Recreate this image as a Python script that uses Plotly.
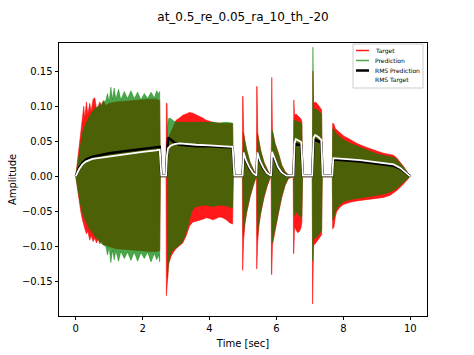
import plotly.graph_objects as go

# ---------------- data ----------------
target_t = [0.00, 0.05, 0.10, 0.15, 0.20, 0.24, 0.27, 0.32, 0.36, 0.42, 0.46, 0.52, 0.57, 0.62, 0.67,
            0.72, 0.78, 0.82, 0.90, 1.00, 1.20, 1.40, 1.60, 1.80, 2.00, 2.20, 2.40, 2.51, 2.53, 2.70,
            2.71, 2.73, 2.745, 2.78, 2.85, 2.92, 3.00, 3.10, 3.20, 3.30, 3.40, 3.50, 3.60, 3.70, 3.80,
            3.90, 4.00, 4.10, 4.20, 4.30, 4.40, 4.50, 4.60, 4.69, 4.71, 4.98,
            4.99, 5.00, 5.02, 5.06, 5.11, 5.21, 5.31, 5.38, 5.40,
            5.41, 5.42, 5.44, 5.48, 5.53, 5.63, 5.73, 5.81, 5.84,
            5.85, 5.86, 5.88, 5.96, 6.06, 6.16, 6.26, 6.36, 6.50,
            6.51, 6.52, 6.54, 6.58, 6.63, 6.68, 6.73, 6.76, 6.78, 7.07,
            7.08, 7.09, 7.11, 7.16, 7.21, 7.26, 7.31, 7.35, 7.37, 7.67,
            7.68, 7.72, 7.76, 7.80, 7.90, 8.00, 8.20, 8.40, 8.60, 8.80, 9.00, 9.20, 9.40, 9.50, 9.60,
            9.80, 10.00]
target_upper = [0.000, 0.020, 0.045, 0.062, 0.078, 0.100, 0.082, 0.106, 0.088, 0.104, 0.092, 0.110, 0.112, 0.096, 0.100,
                0.106, 0.099, 0.108, 0.101, 0.104, 0.106, 0.107, 0.108, 0.108, 0.110, 0.110, 0.110, 0.108, 0.001, 0.001,
                0.104, 0.104, 0.052, 0.056, 0.064, 0.072, 0.080, 0.083, 0.087, 0.089, 0.091, 0.090, 0.088, 0.086, 0.083,
                0.080, 0.078, 0.077, 0.076, 0.076, 0.076, 0.075, 0.075, 0.075, 0.001, 0.001,
                0.114, 0.114, 0.062, 0.050, 0.037, 0.020, 0.009, 0.002, 0.001,
                0.128, 0.128, 0.062, 0.050, 0.037, 0.020, 0.009, 0.002, 0.001,
                0.141, 0.141, 0.066, 0.047, 0.033, 0.016, 0.007, 0.002, 0.001,
                0.109, 0.109, 0.086, 0.089, 0.087, 0.085, 0.082, 0.078, 0.001, 0.001,
                0.150, 0.150, 0.104, 0.106, 0.104, 0.101, 0.098, 0.095, 0.001, 0.001,
                0.076, 0.074, 0.068, 0.066, 0.062, 0.058, 0.052, 0.047, 0.043, 0.039, 0.036, 0.033, 0.031, 0.030, 0.026,
                0.014, 0.000]
target_lower = [0.000, -0.018, -0.035, -0.050, -0.062, -0.070, -0.074, -0.082, -0.078, -0.091, -0.084, -0.093, -0.088, -0.095, -0.089,
                -0.096, -0.092, -0.097, -0.098, -0.100, -0.103, -0.104, -0.105, -0.106, -0.106, -0.107, -0.107, -0.106, -0.001, -0.001,
                -0.170, -0.170, -0.148, -0.125, -0.114, -0.108, -0.103, -0.099, -0.095, -0.085, -0.071, -0.065, -0.064, -0.063, -0.061,
                -0.059, -0.060, -0.062, -0.060, -0.058, -0.059, -0.062, -0.066, -0.068, -0.001, -0.001,
                -0.134, -0.134, -0.090, -0.068, -0.052, -0.030, -0.013, -0.003, -0.001,
                -0.132, -0.132, -0.092, -0.070, -0.053, -0.030, -0.013, -0.003, -0.001,
                -0.140, -0.140, -0.098, -0.077, -0.053, -0.030, -0.013, -0.003, -0.001,
                -0.110, -0.110, -0.072, -0.076, -0.080, -0.079, -0.074, -0.066, -0.001, -0.001,
                -0.182, -0.182, -0.098, -0.096, -0.094, -0.090, -0.086, -0.083, -0.001, -0.001,
                -0.075, -0.072, -0.058, -0.050, -0.044, -0.040, -0.037, -0.035, -0.034, -0.033, -0.031, -0.030, -0.027, -0.024, -0.020,
                -0.011, 0.000]

pred_t = [0.00, 0.05, 0.10, 0.15, 0.20, 0.30, 0.40, 0.50, 0.60, 0.70, 0.80, 0.90, 0.95, 1.00, 1.05, 1.10, 1.15,
          1.20, 1.28, 1.35, 1.45, 1.55, 1.65, 1.75, 1.85, 1.95, 2.05, 2.15, 2.25, 2.35, 2.42, 2.48, 2.51, 2.53, 2.74,
          2.745, 2.77, 2.82, 2.88, 2.95, 3.05, 3.15, 3.25, 3.35, 3.45, 3.55, 3.70, 3.90, 4.10, 4.30, 4.50, 4.69,
          4.71, 4.99,
          5.01, 5.05, 5.11, 5.21, 5.31, 5.38, 5.42,
          5.43, 5.47, 5.53, 5.63, 5.73, 5.81, 5.86,
          5.87, 5.96, 6.06, 6.16, 6.26, 6.36, 6.51,
          6.53, 6.58, 6.63, 6.68, 6.73, 6.76, 6.78, 7.07,
          7.08, 7.09, 7.11, 7.16, 7.21, 7.26, 7.31, 7.35, 7.37, 7.67,
          7.68, 7.72, 7.80, 7.90, 8.00, 8.20, 8.50, 8.80, 9.00, 9.30, 9.50, 9.60, 9.80, 10.00]
pred_upper = [0.000, 0.015, 0.035, 0.050, 0.062, 0.075, 0.085, 0.092, 0.098, 0.100, 0.105, 0.108, 0.118, 0.106, 0.127, 0.110, 0.126,
              0.110, 0.124, 0.109, 0.121, 0.111, 0.122, 0.111, 0.120, 0.109, 0.118, 0.111, 0.120, 0.112, 0.122, 0.117, 0.121, 0.001, 0.001,
              0.070, 0.082, 0.083, 0.080, 0.078, 0.077, 0.077, 0.078, 0.078, 0.078, 0.077, 0.077, 0.077, 0.077, 0.076, 0.077, 0.076,
              0.001, 0.001,
              0.063, 0.050, 0.037, 0.020, 0.009, 0.002, 0.001,
              0.062, 0.050, 0.036, 0.019, 0.008, 0.002, 0.001,
              0.066, 0.046, 0.032, 0.015, 0.006, 0.002, 0.001,
              0.080, 0.079, 0.078, 0.077, 0.076, 0.074, 0.001, 0.001,
              0.184, 0.184, 0.095, 0.097, 0.095, 0.093, 0.091, 0.089, 0.001, 0.001,
              0.068, 0.066, 0.060, 0.056, 0.052, 0.047, 0.041, 0.035, 0.032, 0.029, 0.027, 0.024, 0.013, 0.000]
pred_lower = [0.000, -0.015, -0.030, -0.042, -0.052, -0.064, -0.074, -0.080, -0.087, -0.092, -0.097, -0.100, -0.112, -0.101, -0.123, -0.105, -0.119,
              -0.106, -0.121, -0.107, -0.117, -0.108, -0.120, -0.108, -0.121, -0.109, -0.117, -0.108, -0.122, -0.110, -0.119, -0.112, -0.122, -0.001, -0.001,
              -0.146, -0.124, -0.113, -0.107, -0.103, -0.100, -0.096, -0.087, -0.072, -0.052, -0.044, -0.042, -0.041, -0.043, -0.041, -0.042, -0.045,
              -0.001, -0.001,
              -0.084, -0.066, -0.050, -0.028, -0.012, -0.002, -0.001,
              -0.086, -0.068, -0.051, -0.028, -0.012, -0.002, -0.001,
              -0.095, -0.075, -0.051, -0.028, -0.012, -0.002, -0.001,
              -0.056, -0.050, -0.052, -0.056, -0.058, -0.057, -0.001, -0.001,
              -0.120, -0.120, -0.090, -0.088, -0.086, -0.083, -0.080, -0.077, -0.001, -0.001,
              -0.062, -0.058, -0.046, -0.040, -0.036, -0.033, -0.031, -0.029, -0.027, -0.024, -0.020, -0.017, -0.009, 0.000]

rms_t = [0.00, 0.10, 0.20, 0.30, 0.50, 0.80, 1.00, 1.50, 2.00, 2.40, 2.51, 2.56, 2.70,
         2.73, 2.76, 2.85, 2.95, 3.10, 3.30, 3.60, 4.00, 4.40, 4.69, 4.74, 4.99,
         5.02, 5.10, 5.20, 5.30, 5.40, 5.43, 5.51, 5.61, 5.71, 5.84,
         5.87, 5.95, 6.05, 6.15, 6.30, 6.51, 6.54, 6.58, 6.65, 6.74, 6.79, 7.07,
         7.11, 7.16, 7.25, 7.34, 7.38, 7.67, 7.70, 7.80, 8.00, 8.50, 9.00, 9.50, 9.70, 10.00]
rms_target = [0.000, 0.010, 0.017, 0.021, 0.025, 0.027, 0.029, 0.032, 0.035, 0.037, 0.038, 0.001, 0.001,
              0.030, 0.040, 0.044, 0.046, 0.047, 0.046, 0.045, 0.044, 0.043, 0.042, 0.001, 0.001,
              0.034, 0.022, 0.012, 0.005, 0.001, 0.034, 0.022, 0.012, 0.005, 0.001,
              0.035, 0.024, 0.013, 0.006, 0.001, 0.001, 0.047, 0.053, 0.051, 0.049, 0.001, 0.001,
              0.055, 0.059, 0.056, 0.052, 0.001, 0.001, 0.026, 0.026, 0.025, 0.023, 0.020, 0.017, 0.012, 0.000]
rms_pred = [0.000, 0.012, 0.019, 0.024, 0.028, 0.031, 0.033, 0.036, 0.039, 0.041, 0.042, 0.001, 0.001,
            0.030, 0.055, 0.052, 0.048, 0.045, 0.044, 0.043, 0.043, 0.042, 0.041, 0.001, 0.001,
            0.033, 0.021, 0.011, 0.005, 0.001, 0.033, 0.021, 0.011, 0.005, 0.001,
            0.034, 0.023, 0.012, 0.006, 0.001, 0.001, 0.041, 0.046, 0.045, 0.044, 0.001, 0.001,
            0.049, 0.052, 0.050, 0.048, 0.001, 0.001, 0.024, 0.024, 0.023, 0.021, 0.018, 0.015, 0.011, 0.000]

title_text = "at_0.5_re_0.05_ra_10_th_-20"
x_ticks = [0, 2, 4, 6, 8, 10]
y_ticks = [-0.15, -0.10, -0.05, 0.00, 0.05, 0.10, 0.15]
legend_names = ["Target", "Prediction", "RMS Prediction", "RMS Target"]
legend_colors = ["rgba(255,0,0,0.9)", "rgba(0,128,0,0.7)", "black", "white"]
legend_widths = [1.5, 1.5, 2.5, 1.8]

RED = "rgba(255,0,0,0.9)"
GREEN = "rgba(0,128,0,0.7)"

# ---------------- figure ----------------
def band(t, up, lo):
    return list(t) + list(t)[::-1], list(up) + list(lo)[::-1]

fig = go.Figure()
tx, ty = band(target_t, target_upper, target_lower)
fig.add_trace(go.Scatter(x=tx, y=ty, fill="toself", mode="lines",
                         line=dict(color=RED, width=0.6), fillcolor=RED,
                         name="Target", showlegend=False, hoverinfo="skip"))
px_, py_ = band(pred_t, pred_upper, pred_lower)
fig.add_trace(go.Scatter(x=px_, y=py_, fill="toself", mode="lines",
                         line=dict(color=GREEN, width=0.6), fillcolor=GREEN,
                         name="Prediction", showlegend=False, hoverinfo="skip"))
fig.add_trace(go.Scatter(x=rms_t, y=rms_pred, mode="lines", line=dict(color="black", width=2.5),
                         name="RMS Prediction", showlegend=False, hoverinfo="skip"))
fig.add_trace(go.Scatter(x=rms_t, y=rms_target, mode="lines", line=dict(color="white", width=1.8),
                         name="RMS Target", showlegend=False, hoverinfo="skip"))

# plot-area geometry (pixels) used to place a compact matplotlib-style legend
L, R, T, B = 59, 427, 43, 316
def pxx(p):
    return (p - L) / (R - L)
def pxy(p):
    return 1 - (p - T) / (B - T)

shapes = [dict(type="rect", xref="paper", yref="paper",
               x0=pxx(353), x1=pxx(423), y0=pxy(88), y1=pxy(44),
               line=dict(color="#cccccc", width=1), fillcolor="rgba(255,255,255,0.8)", layer="above")]
annotations = []
rows_py = [50.5, 60.5, 70.5, 80.5]
for name, col, w, rp in zip(legend_names, legend_colors, legend_widths, rows_py):
    shapes.append(dict(type="line", xref="paper", yref="paper",
                       x0=pxx(356), x1=pxx(369), y0=pxy(rp), y1=pxy(rp),
                       line=dict(color=col, width=w), layer="above"))
    annotations.append(dict(text=name, xref="paper", yref="paper", x=pxx(373), y=pxy(rp),
                            xanchor="left", yanchor="middle", showarrow=False,
                            font=dict(size=6, family="DejaVu Sans", color="black")))

axis_common = dict(showline=True, linecolor="black", linewidth=0.8, mirror=True,
                   ticks="outside", ticklen=3.5, tickwidth=0.8, tickcolor="black",
                   showgrid=False, zeroline=False, automargin=False,
                   tickfont=dict(family="DejaVu Sans", size=10, color="black"))

fig.update_layout(
    width=474, height=355,
    margin=dict(l=L, r=474 - R, t=T, b=355 - B),
    paper_bgcolor="white", plot_bgcolor="white",
    showlegend=False,
    font=dict(family="DejaVu Sans", color="black"),
    title=dict(text=title_text, x=0.5, xref="paper", xanchor="center",
               y=1 - 17 / 355, yanchor="middle", font=dict(size=12, color="black")),
    xaxis=dict(range=[-0.5, 10.5], tickvals=x_ticks, ticktext=[str(v) for v in x_ticks],
               title=dict(text="Time [sec]", font=dict(size=10), standoff=6), **axis_common),
    yaxis=dict(range=[-0.199, 0.19], tickvals=y_ticks, tickformat=".2f",
               title=dict(text="Amplitude", font=dict(size=10), standoff=3), **axis_common),
    shapes=shapes,
    annotations=annotations,
)

# remove the browser's default 8px page margin so the figure sits at the window origin
fig.write_html("out.html", config={"displayModeBar": False},
               post_script="document.body.style.margin='0';")
